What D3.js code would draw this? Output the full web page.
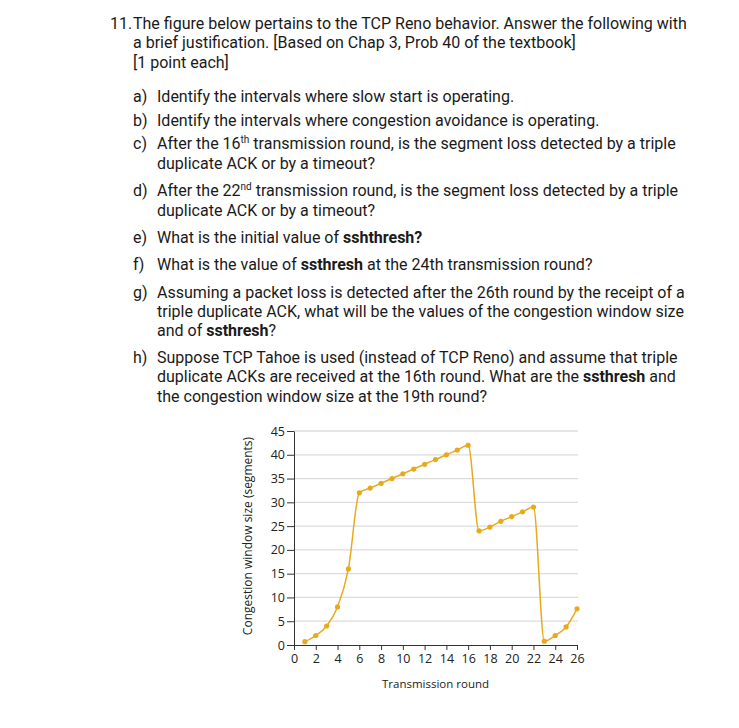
<!DOCTYPE html>
<html>
<head>
<meta charset="utf-8">
<script src="https://cdn.jsdelivr.net/npm/d3@7/dist/d3.min.js"></script>
<style>
  body { margin: 0; background: #fff; }
  .q { font-family: Roboto, sans-serif; font-size: 16px; fill: #1a1a1a; }
  .axis text { font-family: "Open Sans", sans-serif; font-size: 12.5px; fill: #222; }
  .axis path, .axis line { stroke: #333; }
  .lbl { font-family: "Open Sans", sans-serif; fill: #222; }
</style>
</head>
<body>
<svg id="page" width="739" height="728"></svg>
<script>
// question text, each line is a list of [text, style] runs
const questionLines = [
  { x: 110, y: 29, runs: [['11.', '']] },
  { x: 133, y: 29, runs: [['The figure below pertains to the TCP Reno behavior. Answer the following with', '']] },
  { x: 133, y: 48, runs: [['a brief justification. [Based on Chap 3, Prob 40 of the textbook]', '']] },
  { x: 133, y: 68, runs: [['[1 point each]', '']] },
  { x: 133, y: 102, runs: [['a)', '']] },
  { x: 157, y: 102, runs: [['Identify the intervals where slow start is operating.', '']] },
  { x: 133, y: 126, runs: [['b)', '']] },
  { x: 157, y: 126, runs: [['Identify the intervals where congestion avoidance is operating.', '']] },
  { x: 133, y: 149, runs: [['c)', '']] },
  { x: 157, y: 149, runs: [['After the 16', ''], ['th', 'sup'], [' transmission round, is the segment loss detected by a triple', 'down']] },
  { x: 157, y: 169, runs: [['duplicate ACK or by a timeout?', '']] },
  { x: 133, y: 196, runs: [['d)', '']] },
  { x: 157, y: 196, runs: [['After the 22', ''], ['nd', 'sup'], [' transmission round, is the segment loss detected by a triple', 'down']] },
  { x: 157, y: 216, runs: [['duplicate ACK or by a timeout?', '']] },
  { x: 133, y: 243, runs: [['e)', '']] },
  { x: 157, y: 243, runs: [['What is the initial value of ', ''], ['sshthresh?', 'b']] },
  { x: 133, y: 270, runs: [['f)', '']] },
  { x: 157, y: 270, runs: [['What is the value of ', ''], ['ssthresh', 'b'], [' at the 24th transmission round?', '']] },
  { x: 133, y: 298, runs: [['g)', '']] },
  { x: 157, y: 298, runs: [['Assuming a packet loss is detected after the 26th round by the receipt of a', '']] },
  { x: 157, y: 317, runs: [['triple duplicate ACK, what will be the values of the congestion window size', '']] },
  { x: 157, y: 336, runs: [['and of ', ''], ['ssthresh', 'b'], ['?', '']] },
  { x: 133, y: 363, runs: [['h)', '']] },
  { x: 157, y: 363, runs: [['Suppose TCP Tahoe is used (instead of TCP Reno) and assume that triple', '']] },
  { x: 157, y: 382, runs: [['duplicate ACKs are received at the 16th round. What are the ', ''], ['ssthresh', 'b'], [' and', '']] },
  { x: 157, y: 402, runs: [['the congestion window size at the 19th round?', '']] }
]

// chart data
const rounds = [1, 2, 3, 4, 5, 6, 7, 8, 9, 10, 11, 12, 13, 14, 15, 16, 17, 18, 19, 20, 21, 22, 23, 24, 25, 26]
const cwnd = [0.7, 2, 4, 8, 16, 32, 33, 34, 35, 36, 37, 38, 39, 40, 41, 42, 24, 24.8, 26, 27, 28, 29, 0.8, 2, 3.8, 7.6]
const xTicks = [0, 2, 4, 6, 8, 10, 12, 14, 16, 18, 20, 22, 24, 26]
const yTicks = [0, 5, 10, 15, 20, 25, 30, 35, 40, 45]

const svg = d3.select('#page')

// Question text
const q = svg.append('g').attr('class', 'q')
questionLines.forEach(line => {
  const t = q.append('text').attr('x', line.x).attr('y', line.y)
  line.runs.forEach(([str, style]) => {
    const s = t.append('tspan').text(str)
    if (style === 'b') s.attr('font-weight', 'bold')
    if (style === 'sup') s.attr('font-size', '10px').attr('dy', -6)
    if (style === 'down') s.attr('dy', 6)
  })
})

// Chart
const x = d3.scaleLinear().domain([0, 26]).range([294, 577])
const y = d3.scaleLinear().domain([0, 45]).range([645, 431])

const chart = svg.append('g')

// gridlines
chart.append('g')
  .selectAll('line')
  .data(yTicks.filter(d => d > 0))
  .enter()
  .append('line')
  .attr('x1', x(0))
  .attr('x2', x(26) + 1)
  .attr('y1', d => y(d))
  .attr('y2', d => y(d))
  .attr('stroke', '#dcdcdc')
  .attr('stroke-width', 1.3)

chart.append('g')
  .attr('class', 'axis')
  .attr('transform', `translate(0,${y(0)})`)
  .call(d3.axisBottom(x).tickValues(xTicks).tickSize(5).tickPadding(4).tickSizeOuter(0))

chart.append('g')
  .attr('class', 'axis')
  .attr('transform', `translate(${x(0)},0)`)
  .call(d3.axisLeft(y).tickValues(yTicks).tickSize(7).tickPadding(2).tickSizeOuter(0))

// line
const points = rounds.map((r, i) => [r, cwnd[i]])
const line = d3.line()
  .x(d => x(d[0]))
  .y(d => y(d[1]))
  .curve(d3.curveMonotoneX)

chart.append('path')
  .datum(points)
  .attr('d', line)
  .attr('fill', 'none')
  .attr('stroke', '#e8aa1c')
  .attr('stroke-width', 1.5)

chart.append('g')
  .selectAll('circle')
  .data(points)
  .enter()
  .append('circle')
  .attr('cx', d => x(d[0]))
  .attr('cy', d => y(d[1]))
  .attr('r', 2.6)
  .attr('fill', '#e8aa1c')

// axis titles
chart.append('text')
  .attr('class', 'lbl')
  .attr('font-size', '12px')
  .attr('text-anchor', 'middle')
  .attr('transform', `translate(252,${(y(0) + y(45)) / 2 - 2}) rotate(-90)`)
  .text('Congestion window size (segments)')

chart.append('text')
  .attr('class', 'lbl')
  .attr('font-size', '11.5px')
  .attr('text-anchor', 'middle')
  .attr('x', (x(0) + x(26)) / 2)
  .attr('y', 688)
  .text('Transmission round')
</script>
</body>
</html>
